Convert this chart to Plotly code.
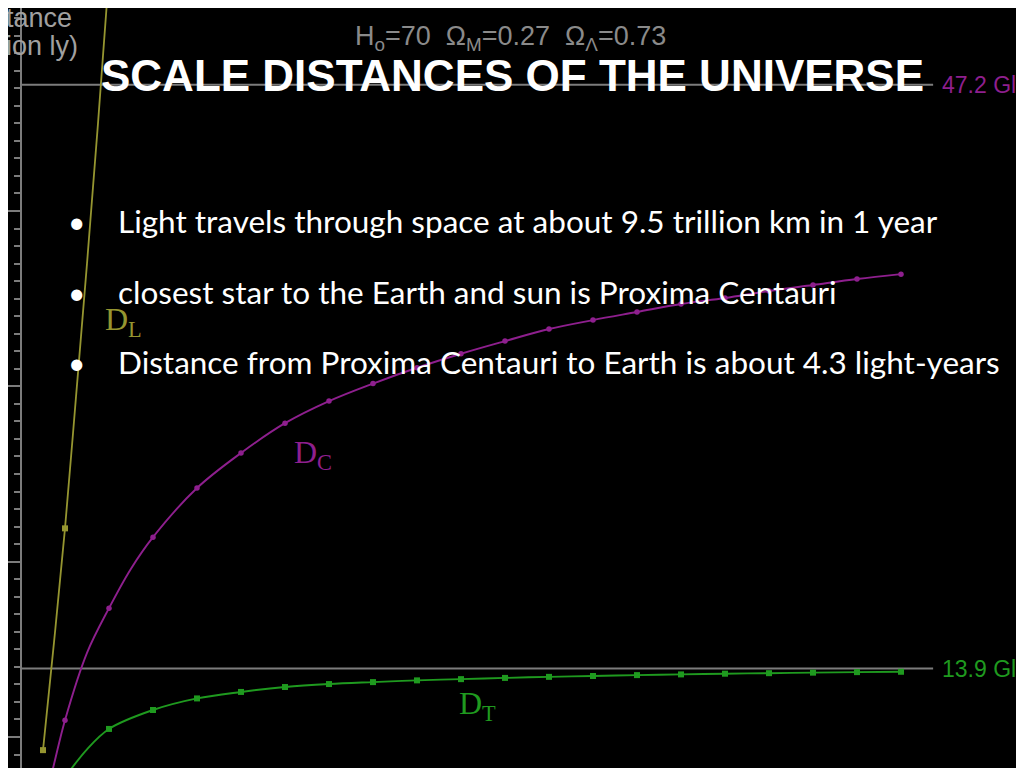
import plotly.graph_objects as go

# ---- data (redshift z vs distance in billion light-years) ----
dl_z = [0.5, 0.75, 1.0, 1.25, 1.5, 1.75, 2.0]
dl_val = [9.25, 15.4, 21.9, 29.4, 37.0, 45.0, 53.5]
dl_mark_z = [0.5, 1.0, 2.0]
dl_mark_val = [9.25, 21.9, 53.5]

dc_z = [0.5, 0.75, 1, 1.5, 2, 2.5, 3, 4, 5, 6, 7, 8, 9, 10, 11, 12, 13, 14, 15, 16, 17, 18, 19, 20]
dc_val = [5.9, 8.45, 10.96, 14.8, 17.35, 19.6, 21.4, 24.2, 26.2, 27.9, 29.16, 30.16, 31.06, 31.86,
          32.58, 33.27, 33.78, 34.24, 34.7, 35.04, 35.44, 35.78, 36.12, 36.4]
dc_mark_z = [0.5, 1, 2, 3, 4, 5, 6, 7, 8, 9, 10, 11, 12, 13, 14, 15, 16, 17, 18, 19, 20]
dc_mark_val = [5.9, 10.96, 17.35, 21.4, 24.2, 26.2, 27.9, 29.16, 30.16, 31.06, 31.86,
               32.58, 33.27, 33.78, 34.24, 34.7, 35.04, 35.44, 35.78, 36.12, 36.4]

dt_z = [1, 1.5, 2, 3, 4, 5, 6, 7, 8, 9, 10, 11, 12, 13, 14, 15, 16, 17, 18, 19, 20]
dt_val = [7.7, 9.3, 10.46, 11.54, 12.2, 12.57, 12.85, 13.02, 13.13, 13.23, 13.3, 13.37, 13.43,
          13.48, 13.53, 13.57, 13.61, 13.64, 13.67, 13.7, 13.72]
dt_mark_z = [1, 2, 3, 4, 5, 6, 7, 8, 9, 10, 11, 12, 13, 14, 15, 16, 17, 18, 19, 20]
dt_mark_val = [7.7, 10.46, 11.54, 12.2, 12.57, 12.85, 13.02, 13.13, 13.23, 13.3, 13.37, 13.43,
               13.48, 13.53, 13.57, 13.61, 13.64, 13.67, 13.7, 13.72]

ref_levels = [47.2, 13.9]
ref_labels = ["47.2 Gly", "13.9 Gly"]
y_ticks = [10, 20, 30, 40]

title_text = "SCALE DISTANCES OF THE UNIVERSE"
bullets = [
    "Light travels through space at about 9.5 trillion km in 1 year",
    "closest star to the Earth and sun is Proxima Centauri",
    "Distance from Proxima Centauri to Earth is about 4.3 light-years",
]

OLIVE = "#959530"
PURPLE = "#8e1f8e"
GREEN = "#1f9a1f"
GRAY = "#7c7c7c"

W, H = 1024, 768
OFF = 8  # page body margin: screen pixel = figure pixel + OFF


def px(x):
    return (x - OFF) / W


def py(y):
    return 1 - (y - OFF) / H


fig = go.Figure()

fig.add_trace(go.Scatter(x=dl_z, y=dl_val, mode="lines", line=dict(color=OLIVE, width=1.8, shape="spline"),
                         hoverinfo="skip", showlegend=False))
fig.add_trace(go.Scatter(x=dl_mark_z, y=dl_mark_val, mode="markers",
                         marker=dict(color=OLIVE, size=6, symbol="square"), showlegend=False))
fig.add_trace(go.Scatter(x=dc_z, y=dc_val, mode="lines", line=dict(color=PURPLE, width=1.9, shape="spline"),
                         hoverinfo="skip", showlegend=False))
fig.add_trace(go.Scatter(x=dc_mark_z, y=dc_mark_val, mode="markers",
                         marker=dict(color=PURPLE, size=5.5, symbol="circle"), showlegend=False))
fig.add_trace(go.Scatter(x=dt_z, y=dt_val, mode="lines", line=dict(color=GREEN, width=1.9, shape="spline"),
                         hoverinfo="skip", showlegend=False))
fig.add_trace(go.Scatter(x=dt_mark_z, y=dt_mark_val, mode="markers",
                         marker=dict(color=GREEN, size=6, symbol="square"), showlegend=False))

# horizontal reference lines
for lvl in ref_levels:
    fig.add_shape(type="line", xref="x", yref="y", x0=0, x1=20.73, y0=lvl, y1=lvl,
                  line=dict(color=GRAY, width=2), layer="below")

for lvl, lab, col in zip(ref_levels, ref_labels, [PURPLE, GREEN]):
    fig.add_annotation(x=px(940), xref="paper", y=lvl, yref="y", text=lab, showarrow=False,
                       xanchor="left", yanchor="middle",
                       font=dict(family="Liberation Sans, Arial, sans-serif", size=23, color=col))

# curve labels
serif = "Liberation Serif, Times New Roman, serif"
fig.add_annotation(x=1.86, y=33.7, text="D<sub>L</sub>", showarrow=False, xanchor="left", yanchor="middle",
                   font=dict(family=serif, size=32, color=OLIVE))
fig.add_annotation(x=6.16, y=26.1, text="D<sub>C</sub>", showarrow=False, xanchor="left", yanchor="middle",
                   font=dict(family=serif, size=32, color=PURPLE))
fig.add_annotation(x=9.9, y=11.8, text="D<sub>T</sub>", showarrow=False, xanchor="left", yanchor="middle",
                   font=dict(family=serif, size=32, color=GREEN))

# axis title fragments (cropped at the left edge)
sans = "Liberation Sans, Arial, sans-serif"
fig.add_annotation(x=px(74), xref="paper", y=py(18), yref="paper", text="Distance", showarrow=False,
                   xanchor="right", yanchor="middle", font=dict(family=sans, size=27, color="#a0a0a0"))
fig.add_annotation(x=px(80), xref="paper", y=py(46), yref="paper", text="(billion ly)", showarrow=False,
                   xanchor="right", yanchor="middle", font=dict(family=sans, size=27, color="#a0a0a0"))

# cosmology parameters
fig.add_annotation(x=px(510), xref="paper", y=py(38), yref="paper",
                   text="H<sub>o</sub>=70\u00a0\u00a0\u03a9<sub>M</sub>=0.27\u00a0\u00a0\u03a9<sub>\u039b</sub>=0.73",
                   showarrow=False, xanchor="center", yanchor="middle",
                   font=dict(family=sans, size=27, color="#8a8a8a"))

# slide title
fig.add_annotation(x=px(512), xref="paper", y=py(76), yref="paper", text="<b>" + title_text + "</b>",
                   showarrow=False, xanchor="center", yanchor="middle",
                   font=dict(family="Liberation Sans, sans-serif", size=44, color="white"))

# bullets
for txt, yy in zip(bullets, [221, 292, 362]):
    fig.add_annotation(x=px(76), xref="paper", y=py(yy), yref="paper", text="\u2022", showarrow=False,
                       xanchor="center", yanchor="middle", font=dict(family="Lato, sans-serif", size=30, color="white"))
    fig.add_annotation(x=px(116), xref="paper", y=py(yy), yref="paper", text=txt, showarrow=False,
                       xanchor="left", yanchor="middle", font=dict(family="Lato, sans-serif", size=31.5, color="white"))

# data-space mapping of the figure area (screen pixels shifted by OFF)
zpp = 44.0
x_lo = (OFF - 21) / zpp
x_hi = (W + OFF - 21) / zpp
ppu = 17.53
y_hi = 40 + (211 - OFF) / ppu
y_lo = 10 - (H + OFF - 737) / ppu

fig.update_layout(
    width=W, height=H, margin=dict(l=0, r=0, t=0, b=0, autoexpand=False),
    paper_bgcolor="black", plot_bgcolor="black",
    showlegend=False,
    xaxis=dict(range=[x_lo, x_hi], visible=False, showgrid=False, zeroline=False, automargin=False),
    yaxis=dict(range=[y_lo, y_hi], anchor="free", position=(21 - OFF) / W, side="left", automargin=False,
               showline=True, linecolor=GRAY, linewidth=2, showgrid=False, zeroline=False,
               tickmode="array", tickvals=y_ticks, ticks="outside", ticklen=13, tickwidth=2, tickcolor=GRAY,
               tickfont=dict(family=sans, size=19, color="#9a9a9a"),
               minor=dict(dtick=1, ticks="outside", ticklen=6, tickwidth=2, tickcolor=GRAY, showgrid=False)),
)

fig.write_html("out.html")
